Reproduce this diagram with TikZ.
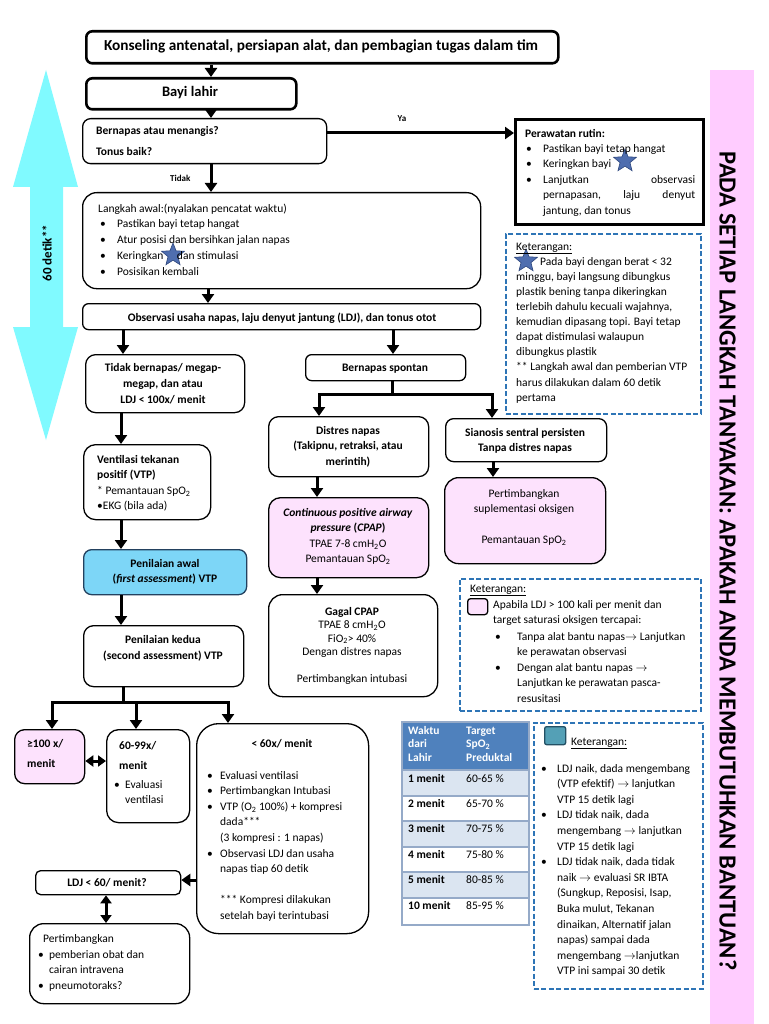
\documentclass[tikz,border=0pt]{standalone}
\usepackage{fontspec}
\setmainfont{Carlito}
\usetikzlibrary{arrows.meta,shapes.geometric}
\definecolor{bannerpink}{RGB}{255,204,255}
\definecolor{cyanarr}{RGB}{128,250,255}
\definecolor{pinkbox}{RGB}{253,226,253}
\definecolor{awalblue}{RGB}{125,214,247}
\definecolor{awaledge}{RGB}{35,65,95}
\definecolor{dashblue}{RGB}{46,117,182}
\definecolor{hdrblue}{RGB}{79,129,189}
\definecolor{rowlight}{RGB}{219,229,241}
\definecolor{tblline}{RGB}{149,170,200}
\definecolor{starblue}{RGB}{79,110,175}
\definecolor{stardark}{RGB}{45,70,125}
\definecolor{tealsq}{RGB}{84,160,182}
\definecolor{tealedge}{RGB}{35,80,100}
\newcommand\fb{\fontsize{11.5}{15.6}\selectfont}
\newcommand\bx[6]{\node[#2,minimum width={(#5-#3)*1pt},minimum height={(#6-#4)*1pt}] (#1) at (#3,#4) {};}
\newcommand\T[5]{\node[#2] (#1) at (#3,{#4-7}) {\strut #5};}
\tikzset{
  box/.style={draw=black, line width=1.3pt, rounded corners=#1, inner sep=0pt, anchor=north west},
  box/.default=8pt,
  tbox/.style={draw=black, line width=2.6pt, rounded corners=6pt, inner sep=0pt, anchor=north west},
  sbox/.style={draw=black, line width=2.6pt, inner sep=0pt, anchor=north west},
  pbox/.style={box=#1, fill=pinkbox},
  abox/.style={box=8pt, fill=awalblue, draw=awaledge},
  dbox/.style={draw=dashblue, line width=1.5pt, dash pattern=on 5pt off 2.5pt, inner sep=0pt, anchor=north west},
  tx/.style={inner sep=0pt, anchor=north west, align=left, font=\fb},
  txb/.style={tx, font=\fb\bfseries},
  tc/.style={inner sep=0pt, anchor=north, align=center, font=\fb},
  tcb/.style={tc, font=\fb\bfseries},
  lbl/.style={inner sep=0pt, font=\bfseries\fontsize{9}{10}\selectfont},
  arr/.style={line width=3pt, -{Triangle[width=12pt,length=9pt]}},
  darr/.style={line width=3pt, {Triangle[width=11pt,length=8pt]}-{Triangle[width=11pt,length=8pt]}},
  ln/.style={line width=3pt, line cap=rect},
  starsh/.style={star, star points=5, star point ratio=2.3, minimum size=24pt, inner sep=0pt, fill=starblue, draw=stardark, line width=0.6pt}
}
\begin{document}
\begin{tikzpicture}[x=1pt,y=-1pt]
\useasboundingbox (0,0) rectangle (768,1024);
\fill[white] (0,0) rectangle (768,1024);
% side banner
\fill[bannerpink] (710,70) rectangle (754,1024);
\node[rotate=-90, inner sep=0pt, font=\bfseries\fontsize{24.6}{28}\selectfont] (banner) at (728,561) {PADA SETIAP LANGKAH TANYAKAN: APAKAH ANDA MEMBUTUHKAN BANTUAN?};
% cyan double arrow
\fill[cyanarr] (46,70) -- (78,187) -- (63,187) -- (63,327) -- (78,327) -- (46,440) -- (13,327) -- (30,327) -- (30,187) -- (13,187) -- cycle;
\node[rotate=90, inner sep=0pt, font=\bfseries\fontsize{13}{15}\selectfont] (sixty) at (47,253) {60 detik**};
% boxes
\bx{konseling}{tbox}{85}{30}{557}{62}
\bx{bayi}{tbox}{85}{77}{295}{108}
\bx{bernapas}{box}{82}{118}{326}{163}
\bx{perawatan}{sbox}{514}{118}{702}{223}
\bx{ket1}{dbox}{505}{233}{700}{413}
\bx{langkah}{box=14pt}{82}{192}{480}{288}
\bx{obs}{box=6pt}{82}{303}{480}{329}
\bx{tidakbn}{box=10pt}{85}{354}{244}{412}
\bx{spontan}{box=6pt}{305}{354}{465}{380}
\bx{distres}{box=10pt}{268}{416}{428}{476}
\bx{sianosis}{box=8pt}{445}{418}{606}{461}
\bx{vtp}{box=12pt}{83}{444}{210}{519}
\bx{cpap}{pbox=12pt}{268}{497}{428}{577}
\bx{supl}{pbox=14pt}{444}{477}{605}{563}
\bx{gagal}{box=14pt}{268}{594}{437}{696}
\bx{awal}{abox}{83}{549}{246}{594}
\bx{kedua}{box=10pt}{83}{625}{243}{686}
\bx{ket2}{dbox}{459}{578}{700}{710}
\bx{ge}{pbox=10pt}{14}{729}{84}{783}
\bx{s69}{box=12pt}{106}{729}{189}{822}
\bx{lt}{box=22pt}{196}{723}{368}{933}
\bx{ldj}{box=5pt}{35}{870}{180}{894}
\bx{pert}{box=14pt}{29}{923}{189}{1003}
\bx{ket3}{dbox}{533}{722}{702}{988}
% small legend squares
\node[draw=black, line width=1.3pt, rounded corners=3pt, fill=pinkbox, minimum width=20pt, minimum height=16pt, inner sep=0pt, anchor=north west] (pinksq) at (467,598) {};
\node[draw=tealedge, line width=1.3pt, rounded corners=2pt, fill=tealsq, minimum width=21pt, minimum height=18pt, inner sep=0pt, anchor=north west] (tealsq) at (544,726) {};
% stars
\node[starsh] (star1) at (625,161) {};
\node[starsh] (star2) at (173,255) {};
\node[starsh] (star3) at (526,261) {};
% table
\fill[hdrblue] (402,722) rectangle (529,770);
\foreach \ya/\yb/\f in {770/796/rowlight,796/821/white,821/847/rowlight,847/872/white,872/898/rowlight,898/925/white}{
  \filldraw[fill=\f, draw=tblline, line width=1.5pt] (402,\ya) rectangle (529,\yb);}
\draw[draw=tblline, line width=1.5pt] (402,722) rectangle (529,925);
\T{h1}{txb, text=white}{408}{730}{Waktu\\[-2.1pt]dari\\[-2.1pt]Lahir}
\T{h2}{txb, text=white}{466}{730}{Target\\[-2.1pt]SpO\textsubscript{2}\\[-2.1pt]Preduktal}
\T{r1a}{txb}{408}{778}{1 menit}  \T{r1b}{tx}{466}{778}{60-65 \%}
\T{r2a}{txb}{408}{803}{2 menit}  \T{r2b}{tx}{466}{803}{65-70 \%}
\T{r3a}{txb}{408}{828}{3 menit}  \T{r3b}{tx}{466}{828}{70-75 \%}
\T{r4a}{txb}{408}{854}{4 menit}  \T{r4b}{tx}{466}{854}{75-80 \%}
\T{r5a}{txb}{408}{879}{5 menit}  \T{r5b}{tx}{466}{879}{80-85 \%}
\T{r6a}{txb}{408}{905}{10 menit} \T{r6b}{tx}{466}{905}{85-95 \%}
% texts
\node[inner sep=0pt, anchor=base, font=\bfseries\fontsize{15.3}{18}\selectfont] (tkons) at (321,51) {Konseling antenatal, persiapan alat, dan pembagian tugas dalam tim};
\node[inner sep=0pt, anchor=base, font=\bfseries\fontsize{14.5}{18}\selectfont] (tbayi) at (190,97) {Bayi lahir};
\T{tbern}{txb}{96}{130}{Bernapas atau menangis?\\[5.4pt]Tonus baik?}
\T{tper0}{txb}{525}{133}{Perawatan rutin:}
\T{tperb}{tx}{526}{148}{•\\•\\•}
\T{tper}{tx}{543}{148}{Pastikan bayi tetap hangat\\Keringkan bayi\\\makebox[152pt][l]{Lanjutkan\hfill observasi}\\\makebox[152pt][l]{pernapasan,\hfill laju\hfill denyut}\\jantung, dan tonus}
\node[tx, font=\fontsize{11.5}{15.1}\selectfont] (tket1) at (516,{246-6.6}) {\strut\underline{Keterangan:}\\\hspace*{24pt}Pada bayi dengan berat < 32\\minggu, bayi langsung dibungkus\\plastik bening tanpa dikeringkan\\terlebih dahulu kecuali wajahnya,\\kemudian dipasang topi. Bayi tetap\\dapat distimulasi walaupun\\dibungkus plastik\\** Langkah awal dan pemberian VTP\\harus dilakukan dalam 60 detik\\pertama};
\T{tla0}{tx}{98}{208}{Langkah awal:(nyalakan pencatat waktu)}
\T{tlab}{tx}{100}{223}{•\\[0.4pt]•\\[0.4pt]•\\[0.4pt]•}
\T{tla}{tx}{117}{223}{Pastikan bayi tetap hangat\\[0.4pt]Atur posisi dan bersihkan jalan napas\\[0.4pt]Keringkan\hspace{11pt} dan stimulasi\\[0.4pt]Posisikan kembali}
\T{tobs}{tcb}{282}{317}{Observasi usaha napas, laju denyut jantung (LDJ), dan tonus otot}
\T{ttbn}{tcb}{163}{367}{Tidak bernapas/ megap-\\[0.4pt]megap, dan atau\\[0.4pt]LDJ < 100x/ menit}
\T{tspon}{tcb}{385}{367}{Bernapas spontan}
\T{tdis}{tcb}{348}{430}{Distres napas\\(Takipnu, retraksi, atau\\merintih)}
\T{tsia}{tcb}{525}{432}{Sianosis sentral persisten\\Tanpa distres napas}
\T{tvtp}{tx}{97}{459}{\textbf{Ventilasi tekanan}\\\textbf{positif (VTP)}\\* Pemantauan SpO\textsubscript{2}\\•EKG (bila ada)}
\T{tcpap}{tc}{348}{512}{\textbf{\textit{Continuous positive airway}}\\\textbf{\textit{pressure} (\textit{CPAP})}\\TPAE 7-8 cmH\textsubscript{2}O\\Pemantauan SpO\textsubscript{2}}
\T{tsupl}{tc}{524}{493}{Pertimbangkan\\suplementasi oksigen\\[15.6pt]Pemantauan SpO\textsubscript{2}}
\T{tgag}{tc}{352}{611}{\textbf{Gagal CPAP}\\[-2.1pt]TPAE 8 cmH\textsubscript{2}O\\[-2.1pt]FiO\textsubscript{2}> 40\%\\[-2.1pt]Dengan distres napas\\[11.4pt]Pertimbangkan intubasi}
\T{tawal}{tcb}{165}{563}{Penilaian awal\\[-0.6pt](\textit{first assessment}) VTP}
\T{tked}{tcb}{163}{639}{Penilaian kedua\\[0.4pt](second assessment) VTP}
\T{tge}{txb}{27}{743}{≥100 x/\\[4.4pt]menit}
\T{ts69}{txb}{119}{745}{60-99x/\\[4.4pt]menit}
\T{ts69b}{tx}{114}{784}{•}
\T{ts69t}{tx}{125}{784}{Evaluasi\\ventilasi}
\T{tlt0}{tcb}{282}{743}{< 60x/ menit}
\T{tltb}{tx}{207}{775}{•\\•\\•\\[31.2pt]•}
\T{tlt}{tx}{220}{775}{Evaluasi ventilasi\\Pertimbangkan Intubasi\\VTP (O\textsubscript{2} 100\%) + kompresi\\dada***\\(3 kompresi : 1 napas)\\Observasi LDJ dan usaha\\napas tiap 60 detik\\[15.6pt]*** Kompresi dilakukan\\setelah bayi terintubasi}
\T{tldj}{tcb}{107}{882}{LDJ < 60/ menit?}
\T{tpert0}{tx}{43}{938}{Pertimbangkan}
\T{tpertb}{tx}{38}{954}{•\\[15.6pt]•}
\T{tpert}{tx}{49}{954}{pemberian obat dan\\cairan intravena\\pneumotoraks?}
\T{tk2a}{tx}{470}{588}{\underline{Keterangan:}}
\T{tk2b}{tx}{493}{604}{Apabila LDJ > 100 kali per menit dan\\target saturasi oksigen tercapai:}
\T{tk2c}{tx}{495}{636}{•\\[15.6pt]•}
\T{tk2d}{tx}{517}{636}{Tanpa alat bantu napas$\rightarrow$ Lanjutkan\\ke perawatan observasi\\Dengan alat bantu napas $\rightarrow$\\Lanjutkan ke perawatan pasca-\\resusitasi}
\T{tk3a}{tx}{571}{741}{\underline{Keterangan:}}
\T{tk3b}{tx}{541}{768}{•\\[31.2pt]•\\[31.2pt]•}
\T{tk3c}{tx}{557}{768}{LDJ naik, dada mengembang\\(VTP efektif) $\rightarrow$ lanjutkan\\VTP 15 detik lagi\\LDJ tidak naik, dada\\mengembang $\rightarrow$ lanjutkan\\VTP 15 detik lagi\\LDJ tidak naik, dada tidak\\naik $\rightarrow$ evaluasi SR IBTA\\(Sungkup, Reposisi, Isap,\\Buka mulut, Tekanan\\dinaikan, Alternatif jalan\\napas) sampai dada\\mengembang $\rightarrow$lanjutkan\\VTP ini sampai 30 detik}
% connectors
\draw[arr] ([xshift=126pt]konseling.south west) -- ([xshift=126pt]bayi.north west);
\draw[arr] ([xshift=126pt]bayi.south west) -- ([xshift=129pt]bernapas.north west);
\draw[arr] ([yshift=-15pt]bernapas.north east) -- ([yshift=-15pt]perawatan.north west) node[lbl, pos=0.4, above=10pt] (lya) {Ya};
\draw[arr] ([xshift=129pt]bernapas.south west) -- ([xshift=129pt]langkah.north west) node[lbl, midway, left=19pt] (ltidak) {Tidak};
\draw[arr] ([xshift=126pt]langkah.south west) -- ([xshift=126pt]obs.north west);
\draw[arr] ([xshift=41pt]obs.south west) -- ([xshift=38pt]tidakbn.north west);
\draw[arr] ([xshift=311pt]obs.south west) -- ([xshift=88pt]spontan.north west);
\coordinate (jl) at (319,394);
\coordinate (jr) at (492,394);
\draw[ln] ([xshift=87pt]spontan.south west) -- ([xshift=87pt]spontan.south west |- jl);
\draw[ln] (jl) -- (jr);
\draw[arr] (jl) -- (jl |- distres.north);
\draw[arr] (jr) -- (jr |- sianosis.north);
\draw[arr] ([xshift=36pt]tidakbn.south west) -- ([xshift=38pt]vtp.north west);
\draw[arr] ([xshift=38pt]vtp.south west) -- ([xshift=38pt]awal.north west);
\draw[arr] ([xshift=38pt]awal.south west) -- ([xshift=38pt]kedua.north west);
\draw[arr] ([xshift=49pt]distres.south west) -- ([xshift=49pt]cpap.north west);
\draw[arr] ([xshift=49pt]cpap.south west) -- ([xshift=49pt]gagal.north west);
\draw[arr] ([xshift=48pt]sianosis.south west) -- ([xshift=49pt]supl.north west);
\coordinate (kl) at (52,702);
\coordinate (km) at (136,702);
\coordinate (kr) at (228,702);
\draw[ln] ([xshift=40pt]kedua.south west) -- ([xshift=40pt]kedua.south west |- kl);
\draw[ln] (kl) -- (kr);
\draw[arr] (kl) -- (kl |- ge.north);
\draw[arr] (km) -- (km |- s69.north);
\draw[arr] (kr) -- (kr |- lt.north);
\coordinate (lta) at ([yshift=-157pt]lt.north west);
\draw[arr] (lta) -- (lta -| ldj.east);
\draw[darr] ([yshift=-32pt]ge.north east) -- ([yshift=-32pt]s69.north west);
\draw[darr] ([xshift=71pt]ldj.south west) -- ([xshift=77pt]pert.north west);
\end{tikzpicture}
\end{document}
